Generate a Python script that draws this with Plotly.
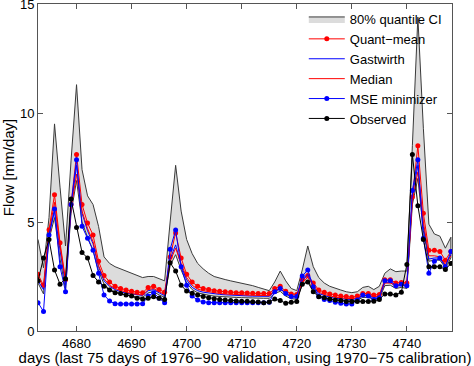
import plotly.graph_objects as go

days = list(range(4673, 4749))

ci_upper = [4.2, 2.9, 5.2, 9.5, 6.6, 3.9, 7.8, 11.3, 7.4, 6.2,
            5.8, 4.8, 3.4, 3.1, 2.95, 2.85, 2.75, 2.65, 2.55, 2.45,
            2.5, 2.5, 2.4, 2.3, 5.0, 7.6, 5.5, 4.2, 3.55, 3.1,
            2.85, 2.65, 2.5, 2.42, 2.36, 2.3, 2.25, 2.2, 2.14, 2.08,
            2.0, 1.92, 1.85, 2.25, 2.75, 2.3, 1.95, 1.85, 2.8, 3.9,
            2.95, 2.45, 2.2, 2.05, 1.95, 1.88, 1.8, 1.76, 1.8, 2.0,
            2.05, 1.9, 2.05, 2.65, 2.85, 2.72, 2.75, 2.75, 8.5, 14.4,
            9.3, 4.9, 4.45, 4.35, 3.8, 4.3]

ci_lower = [2.2, 1.7, 4.2, 5.2, 3.3, 1.9, 5.4, 6.9, 5.0, 4.3,
            3.7, 2.75, 2.15, 1.9, 1.8, 1.7, 1.64, 1.6, 1.56, 1.54,
            1.75, 1.8, 1.65, 1.55, 3.0, 3.5, 2.8, 2.2, 1.9, 1.75,
            1.68, 1.64, 1.6, 1.58, 1.56, 1.55, 1.54, 1.53, 1.52, 1.51,
            1.5, 1.5, 1.5, 1.72, 1.82, 1.6, 1.48, 1.46, 2.1, 2.3,
            1.9, 1.62, 1.52, 1.46, 1.42, 1.4, 1.38, 1.37, 1.42, 1.54,
            1.54, 1.46, 1.48, 2.08, 2.1, 1.95, 2.0, 1.95, 5.8, 7.0,
            4.6, 3.2, 3.25, 3.25, 2.9, 3.35]

quant_mean = [2.6, 2.1, 4.65, 6.25, 4.05, 2.35, 5.8, 8.1, 5.8, 4.95,
              4.4, 3.2, 2.55, 2.25, 2.05, 1.95, 1.88, 1.82, 1.78, 1.75,
              2.0, 2.05, 1.9, 1.78, 3.4, 4.5, 3.35, 2.6, 2.25, 2.05,
              1.95, 1.9, 1.85, 1.82, 1.8, 1.78, 1.76, 1.75, 1.74, 1.73,
              1.72, 1.72, 1.72, 1.95, 2.05, 1.82, 1.7, 1.68, 2.35, 2.55,
              2.2, 1.88, 1.78, 1.7, 1.65, 1.6, 1.58, 1.55, 1.6, 1.72,
              1.72, 1.65, 1.68, 2.35, 2.35, 2.2, 2.22, 2.2, 6.15, 8.5,
              5.4, 3.7, 3.7, 3.65, 3.25, 3.65]

gastwirth = [2.3, 1.9, 4.4, 5.5, 3.7, 2.1, 5.6, 7.6, 5.4, 4.6,
             4.0, 2.95, 2.3, 2.05, 1.9, 1.8, 1.74, 1.7, 1.66, 1.63,
             1.85, 1.9, 1.75, 1.62, 3.3, 3.95, 3.0, 2.35, 2.0, 1.85,
             1.78, 1.74, 1.7, 1.68, 1.66, 1.64, 1.63, 1.62, 1.61, 1.6,
             1.6, 1.59, 1.59, 1.82, 1.95, 1.7, 1.57, 1.55, 2.3, 2.6,
             2.05, 1.72, 1.62, 1.55, 1.5, 1.47, 1.45, 1.44, 1.5, 1.62,
             1.62, 1.54, 1.57, 2.22, 2.22, 2.05, 2.1, 2.05, 6.2, 7.6,
             4.8, 3.3, 3.35, 3.35, 3.0, 3.5]

median = [2.5, 2.0, 4.5, 5.9, 3.9, 2.3, 5.6, 7.2, 5.5, 4.7,
          4.1, 3.0, 2.4, 2.1, 1.95, 1.85, 1.78, 1.72, 1.68, 1.65,
          1.9, 1.95, 1.8, 1.68, 3.2, 3.8, 3.1, 2.45, 2.1, 1.92,
          1.85, 1.8, 1.75, 1.72, 1.7, 1.68, 1.67, 1.66, 1.65, 1.64,
          1.63, 1.62, 1.62, 1.85, 1.95, 1.72, 1.6, 1.58, 2.25, 2.45,
          2.1, 1.78, 1.68, 1.6, 1.55, 1.52, 1.5, 1.48, 1.52, 1.65,
          1.65, 1.58, 1.6, 2.2, 2.2, 2.1, 2.12, 2.1, 6.0, 7.3,
          5.0, 3.45, 3.45, 3.4, 3.05, 3.45]

mse_min = [1.3, 0.9, 4.4, 5.6, 2.95, 1.8, 5.8, 7.85, 4.8, 4.25,
           3.7, 2.65, 1.65, 1.38, 1.25, 1.24, 1.24, 1.24, 1.24, 1.25,
           1.6, 1.76, 1.5, 1.3, 3.75, 4.63, 2.95, 2.1, 1.6, 1.42,
           1.33, 1.3, 1.3, 1.3, 1.3, 1.3, 1.3, 1.3, 1.3, 1.3,
           1.3, 1.3, 1.32, 1.8, 1.95, 1.72, 1.58, 1.58, 2.52, 2.8,
           2.03, 1.58, 1.45, 1.4, 1.32, 1.27, 1.24, 1.24, 1.42, 1.65,
           1.6, 1.45, 1.53, 2.3, 2.3, 2.08, 2.15, 2.07, 6.45, 7.85,
           4.25, 2.65, 3.2, 3.35, 2.95, 3.65]

observed = [2.3, 3.35, 4.2, 2.8, 2.15, 2.4, 6.05, 4.75, 3.6, 3.35,
            2.55, 2.25, 2.05, 1.88, 1.75, 1.72, 1.65, 1.6, 1.5, 1.47,
            1.5, 1.57, 1.5, 1.45, 3.13, 2.75, 2.1, 1.83, 1.73, 1.65,
            1.58, 1.53, 1.48, 1.45, 1.42, 1.4, 1.38, 1.36, 1.36, 1.34,
            1.33, 1.3, 1.33, 1.47, 1.4, 1.27, 1.32, 1.35, 2.15, 2.25,
            1.8, 1.57, 1.53, 1.47, 1.42, 1.4, 1.35, 1.35, 1.35, 1.35,
            1.35, 1.37, 1.45, 1.7, 1.7, 1.65, 1.78, 3.05, 8.1, 5.75,
            4.2, 2.95, 2.95, 2.95, 2.82, 3.1]

x_ticks = [4680, 4690, 4700, 4710, 4720, 4730, 4740]
y_ticks = [0, 5, 10, 15]

FONT = "Liberation Sans, Arial, sans-serif"

fig = go.Figure()

fig.add_trace(go.Scatter(
    x=days + days[::-1], y=ci_upper + ci_lower[::-1],
    fill="toself", fillcolor="#dcdcdc", mode="lines",
    line=dict(color="#3a3a3a", width=1), name="80% quantile CI"))

fig.add_trace(go.Scatter(
    x=days, y=quant_mean, mode="lines+markers", name="Quant\u2212mean",
    line=dict(color="#ff0000", width=1), marker=dict(color="#ff0000", size=5)))
fig.add_trace(go.Scatter(
    x=days, y=gastwirth, mode="lines", name="Gastwirth",
    line=dict(color="#0000ff", width=1)))
fig.add_trace(go.Scatter(
    x=days, y=median, mode="lines", name="Median",
    line=dict(color="#ff0000", width=1)))
fig.add_trace(go.Scatter(
    x=days, y=mse_min, mode="lines+markers", name="MSE minimizer",
    line=dict(color="#0000ff", width=1), marker=dict(color="#0000ff", size=5)))
fig.add_trace(go.Scatter(
    x=days, y=observed, mode="lines+markers", name="Observed",
    line=dict(color="#000000", width=1), marker=dict(color="#000000", size=5)))

axis_common = dict(
    showgrid=False, zeroline=False, showline=True, linecolor="#555555",
    linewidth=1, mirror="ticks", ticks="inside", ticklen=5,
    tickcolor="#555555", tickfont=dict(family=FONT, size=13, color="#000"),
    ticklabeloverflow="allow",
)

fig.update_xaxes(
    range=[4673, 4748.2], tickvals=x_ticks,
    title=dict(text="days (last 75 days of 1976\u221290 validation, using 1970\u221275 calibration)",
               font=dict(family=FONT, size=15, color="#000"), standoff=4),
    **axis_common)
fig.update_yaxes(
    range=[0, 15], tickvals=y_ticks,
    title=dict(text="Flow [mm/day]", font=dict(family=FONT, size=15, color="#000"), standoff=8),
    **axis_common)

fig.update_layout(
    width=474, height=366,
    margin=dict(l=38, r=22, t=4, b=35, autoexpand=False),
    paper_bgcolor="white", plot_bgcolor="white",
    font=dict(family=FONT, size=13, color="#000"),
    showlegend=True,
    legend=dict(x=0.642, y=1.0, xanchor="left", yanchor="top",
                bgcolor="rgba(0,0,0,0)", borderwidth=0,
                font=dict(family=FONT, size=13, color="#000"),
                itemwidth=36, tracegroupgap=0),
)

fig.write_html("out.html", config={"displayModeBar": False},
               post_script="document.body.style.margin='0';document.body.style.overflow='hidden';")
